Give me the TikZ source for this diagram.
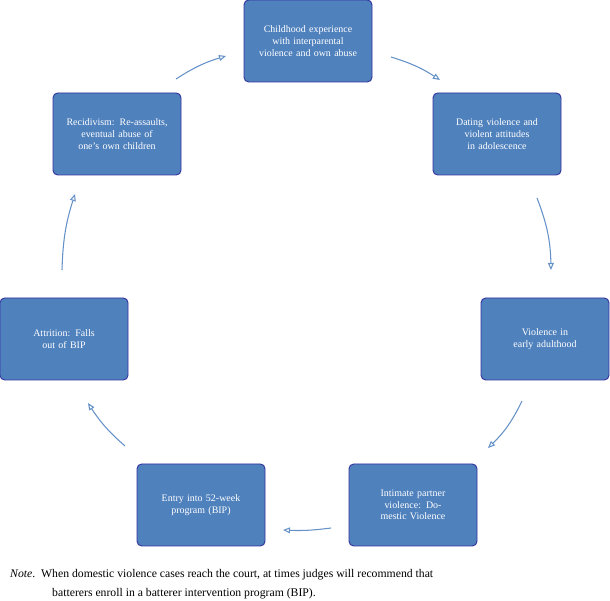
\documentclass[tikz,border=0pt]{standalone}
\usepackage{fontspec}
\setmainfont{Liberation Serif}
\usetikzlibrary{arrows.meta}
\begin{document}
\begin{tikzpicture}[x=0.03cm,y=-0.03cm,
  box/.style={rectangle,rounded corners=4pt,draw=black!30!blue!60!gray,line width=0.8pt,fill={rgb,255:red,79;green,129;blue,189},text=white,
    minimum width=128*0.03cm,minimum height=82*0.03cm,text width=104*0.03cm,align=center,font=\fontsize{8.5}{10}\selectfont},
  arr/.style={draw={rgb,255:red,100;green,145;blue,200},line width=0.9pt,-{Stealth[length=6pt,width=5pt,inset=0pt,open]}}]
\useasboundingbox (0,0) rectangle (610,601);
% boxes
\node[box] (b1) at (308,41) {Childhood experience with interparental violence and own abuse};
\node[box] (b2) at (497,134) {Dating violence and violent attitudes in adolescence};
\node[box] (b3) at (545,339) {Violence in early adulthood};
\node[box] (b4) at (413,505) {Intimate partner violence: Domestic Violence};
\node[box] (b5) at (201,505) {Entry into 52-week program (BIP)};
\node[box] (b6) at (64,339) {Attrition: Falls out of BIP};
\node[box] (b7) at (117,134) {Recidivism: Re-assaults, eventual abuse of one's own children};
% arrow ends
\coordinate (a1) at (391,57);  \coordinate (e1) at (440,80);
\coordinate (a2) at (537,198); \coordinate (e2) at (551,270);
\coordinate (a3) at (522,401); \coordinate (e3) at (488,448);
\coordinate (a4) at (331,528); \coordinate (e4) at (283,530);
\coordinate (a5) at (125,446); \coordinate (e5) at (88,403);
\coordinate (a6) at (62,270);  \coordinate (e6) at (75,194);
\coordinate (a7) at (176,79);  \coordinate (e7) at (226,56);
\draw[arr] (a1) to[bend left=8] (e1);
\draw[arr] (a2) to[bend left=10] (e2);
\draw[arr] (a3) to[bend left=10] (e3);
\draw[arr] (a4) to[bend left=5] (e4);
\draw[arr] (a5) to[bend left=8] (e5);
\draw[arr] (a6) to[bend left=8] (e6);
\draw[arr] (a7) to[bend left=8] (e7);
% note
\node[anchor=west,font=\fontsize{10}{12}\selectfont,inner sep=0pt] (n1) at (10,575) {\textit{Note}.\ \ When domestic violence cases reach the court, at times judges will recommend that};
\node[anchor=west,font=\fontsize{10}{12}\selectfont,inner sep=0pt] (n2) at (52,594) {batterers enroll in a batterer intervention program (BIP).};
\end{tikzpicture}
\end{document}
